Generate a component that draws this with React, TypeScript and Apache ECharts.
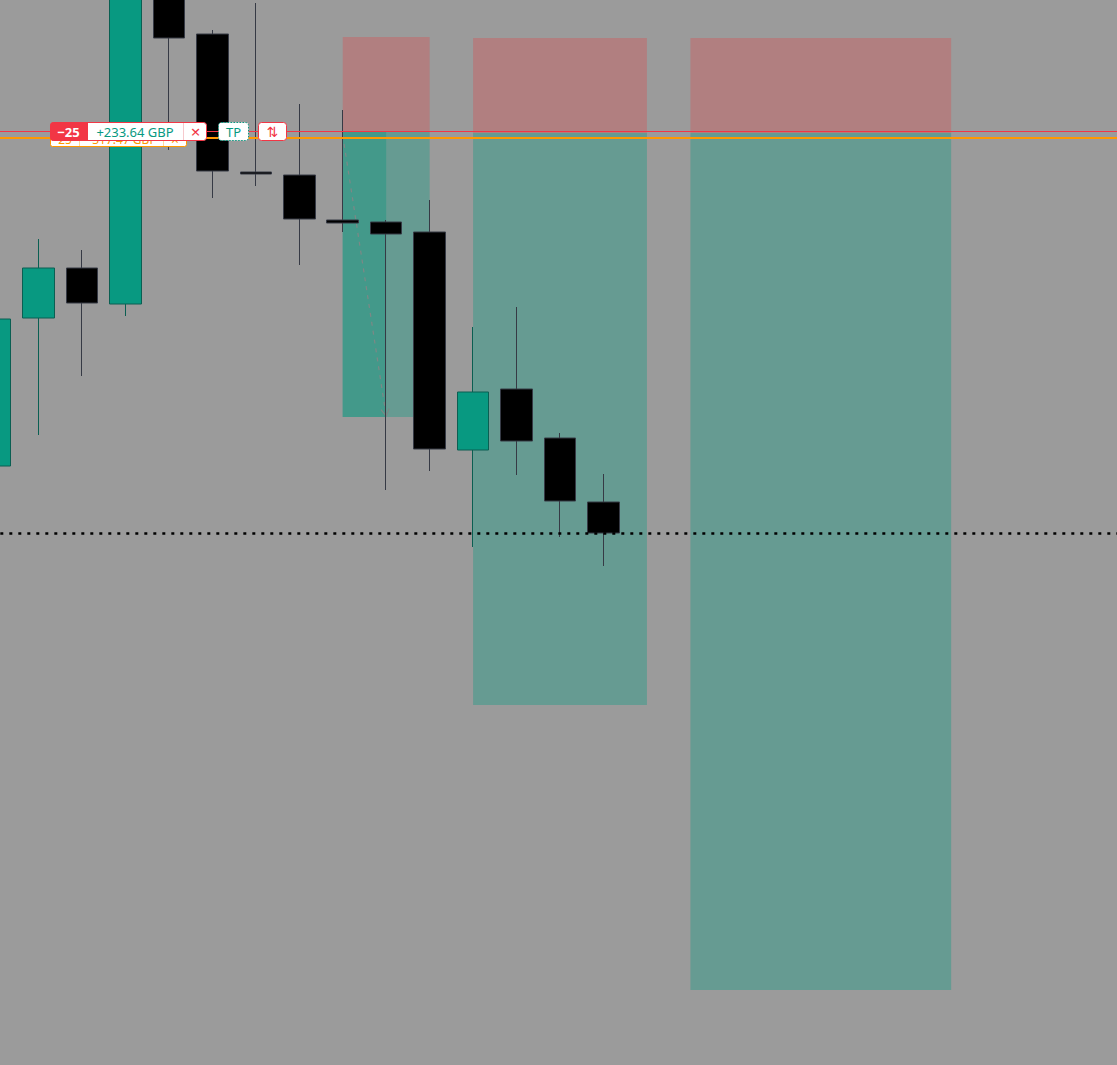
import React, { useEffect, useRef } from "react";
import * as echarts from "echarts";

// Bar labels (no axis shown in the reference)
const categories = [
  "1", "2", "3", "4", "5", "6", "7", "8", "9", "10", "11", "12", "13", "14",
  "15", "16", "17", "18", "19", "20", "21", "22", "23", "24", "25", "26", "27",
];

// OHLC (price scale in points)
const opens = [7509.9, 7524.7, 7529.7, 7526.1, 7557.5, 7553.1, 7539.3, 7539.0, 7534.5, 7534.3, 7533.3, 7511.5, 7517.6, 7512.7, 7506.3];
const closes = [7524.6, 7529.7, 7526.2, 7558.5, 7552.7, 7539.4, 7539.1, 7534.6, 7534.2, 7533.1, 7511.6, 7517.3, 7512.4, 7506.4, 7503.2];
const lows = [7508.5, 7513.0, 7518.9, 7524.9, 7541.5, 7536.7, 7537.9, 7530.0, 7533.3, 7507.5, 7509.4, 7501.8, 7509.0, 7502.8, 7499.9];
const highs = [7526.5, 7532.6, 7531.5, 7560.0, 7559.5, 7553.5, 7556.2, 7546.1, 7545.5, 7534.5, 7536.5, 7523.8, 7525.8, 7513.2, 7509.1];

// Position-tool zones: [fromBar, toBar, topPrice, bottomPrice]
const riskZones = [
  [8, 10, 7552.8, 7543.4],
  [11, 15, 7552.7, 7543.2],
  [16, 22, 7552.7, 7543.2],
];
const rewardZones = [
  [8, 10, 7543.4, 7514.8],
  [11, 15, 7543.2, 7486.0],
  [16, 22, 7543.2, 7457.5],
];
const pathZones = [[8, 9, 7543.4, 7514.8]];
// dashed projected path inside the first zone: [bar, price]
const pathLine = [
  [8.02, 7543.0],
  [9.0, 7514.9],
];

// Horizontal price lines
const slLinePrice = 7543.35;
const entryLinePrice = 7542.7;
const lastPrice = 7503.2;

const Y_MIN = 7450.0;
const Y_MAX = 7556.5;

function zoneSeries(data: number[][], color: string, z: number) {
  return {
    type: "custom",
    z,
    silent: true,
    clip: false,
    encode: { x: [0, 1], y: [2, 3] },
    data,
    renderItem: (params: any, api: any) => {
      const p1 = api.coord([api.value(0), api.value(2)]);
      const p2 = api.coord([api.value(1), api.value(3)]);
      return {
        type: "rect",
        shape: { x: p1[0], y: p1[1], width: p2[0] - p1[0], height: p2[1] - p1[1] },
        style: { fill: color },
      };
    },
  };
}

export default function App() {
  const ref = useRef<HTMLDivElement>(null);

  useEffect(() => {
    if (!ref.current) return;
    const chart = echarts.init(ref.current, null, { renderer: "svg" });
    const candleData = opens.map((o, i) => [o, closes[i], lows[i], highs[i]]);
    const band = 43.46;
    const gridLeft = -4.96 - band / 2;
    const font = "Noto Sans";

    const option: any = {
      animation: false,
      backgroundColor: "#9b9b9b",
      grid: {
        left: gridLeft,
        top: 0,
        width: band * categories.length,
        height: 1065,
        outerBoundsMode: "none",
        containLabel: false,
      },
      xAxis: {
        type: "category",
        data: categories,
        boundaryGap: true,
        show: false,
      },
      yAxis: {
        type: "value",
        min: Y_MIN,
        max: Y_MAX,
        show: false,
        splitLine: { show: false },
      },
      series: [
        zoneSeries(riskZones, "#b17f80", 1),
        zoneSeries(rewardZones, "#669b92", 1),
        zoneSeries(pathZones, "#43998a", 2),
        {
          type: "custom",
          z: 2,
          silent: true,
          clip: false,
          encode: { x: 0, y: 1 },
          data: pathLine,
          renderItem: (params: any, api: any) => {
            if (params.dataIndex !== 0) return null;
            const a = api.coord(pathLine[0]);
            const b = api.coord(pathLine[1]);
            const dx = b[0] - a[0];
            const dy = b[1] - a[1];
            const len = Math.sqrt(dx * dx + dy * dy);
            const ux = dx / len;
            const uy = dy / len;
            const s = 7;
            const w1 = [b[0] - s * ux - s * 0.6 * uy, b[1] - s * uy + s * 0.6 * ux];
            const w2 = [b[0] - s * ux + s * 0.6 * uy, b[1] - s * uy - s * 0.6 * ux];
            return {
              type: "group",
              children: [
                {
                  type: "line",
                  shape: { x1: a[0], y1: a[1], x2: b[0], y2: b[1] },
                  style: { stroke: "#7d8886", lineWidth: 1.2, lineDash: [4, 5] },
                },
                {
                  type: "polyline",
                  shape: { points: [w1, b, w2] },
                  style: { stroke: "#7d8886", lineWidth: 1.2, fill: "none" },
                },
              ],
            };
          },
        },
        {
          type: "candlestick",
          z: 3,
          barWidth: 32,
          data: candleData,
          itemStyle: {
            color: "#089981",
            color0: "#000000",
            borderColor: "#0a5f52",
            borderColor0: "#363a45",
            borderWidth: 1,
          },
          markLine: {
            silent: true,
            symbol: ["none", "none"],
            label: { show: false },
            data: [
              { yAxis: slLinePrice, lineStyle: { color: "#f23645", width: 1, type: "solid" } },
              { yAxis: entryLinePrice, lineStyle: { color: "#ff9800", width: 2, type: "solid" } },
              { yAxis: lastPrice, lineStyle: { color: "#000000", width: 2.5, type: [3, 6] } },
            ],
          },
        },
      ],
      graphic: [
        // orange (entry) label, partly hidden
        {
          type: "rect",
          z: 20,
          shape: { x: 50.5, y: 131.5, width: 136, height: 15, r: 2 },
          style: { fill: "#ffffff", stroke: "#ff9800", lineWidth: 1 },
        },
        { type: "line", z: 20, shape: { x1: 79.5, y1: 132, x2: 79.5, y2: 146 }, style: { stroke: "#ffd9a0", lineWidth: 1 } },
        { type: "line", z: 20, shape: { x1: 163.5, y1: 132, x2: 163.5, y2: 146 }, style: { stroke: "#ffd9a0", lineWidth: 1 } },
        { type: "text", z: 21, x: 65, y: 139.5, style: { text: "25", fill: "#ff9800", font: `12px ${font}`, align: "center", verticalAlign: "middle" } },
        { type: "text", z: 21, x: 121, y: 139.5, style: { text: "−317.47 GBP", fill: "#ff9800", font: `12px ${font}`, align: "center", verticalAlign: "middle" } },
        { type: "text", z: 21, x: 175, y: 139.5, style: { text: "×", fill: "#ff9800", font: `14px ${font}`, align: "center", verticalAlign: "middle" } },
        // red (stop) label
        {
          type: "rect",
          z: 30,
          shape: { x: 50.5, y: 122.5, width: 156, height: 18, r: 3 },
          style: { fill: "#ffffff", stroke: "#f23645", lineWidth: 1 },
        },
        {
          type: "rect",
          z: 31,
          shape: { x: 50.5, y: 122.5, width: 37, height: 18, r: [3, 0, 0, 3] },
          style: { fill: "#f23645", stroke: "#f23645", lineWidth: 1 },
        },
        { type: "text", z: 32, x: 68.5, y: 132, style: { text: "−25", fill: "#ffffff", font: `bold 13px ${font}`, align: "center", verticalAlign: "middle" } },
        { type: "text", z: 32, x: 135, y: 132, style: { text: "+233.64 GBP", fill: "#089981", font: `13px ${font}`, align: "center", verticalAlign: "middle" } },
        { type: "line", z: 32, shape: { x1: 183.5, y1: 123, x2: 183.5, y2: 140 }, style: { stroke: "#f6c9cd", lineWidth: 1 } },
        { type: "text", z: 32, x: 195.5, y: 131.5, style: { text: "×", fill: "#f23645", font: `17px ${font}`, align: "center", verticalAlign: "middle" } },
        // TP button
        {
          type: "rect",
          z: 30,
          shape: { x: 218.5, y: 122.5, width: 30, height: 18, r: 3 },
          style: { fill: "#ffffff", stroke: "#089981", lineWidth: 1, lineDash: [1.5, 1.5] },
        },
        { type: "text", z: 32, x: 233.5, y: 132, style: { text: "TP", fill: "#089981", font: `13px ${font}`, align: "center", verticalAlign: "middle" } },
        // reverse button
        {
          type: "rect",
          z: 30,
          shape: { x: 258.5, y: 122.5, width: 28, height: 18, r: 3 },
          style: { fill: "#ffffff", stroke: "#f23645", lineWidth: 1 },
        },
        { type: "text", z: 32, x: 272.5, y: 132, style: { text: "⇅", fill: "#f23645", font: `14px DejaVu Sans`, align: "center", verticalAlign: "middle" } },
      ],
    };

    chart.setOption(option);
    return () => chart.dispose();
  }, []);

  return (
    <div
      ref={ref}
      style={{ position: "absolute", left: 0, top: 0, width: 1117, height: 1065 }}
    />
  );
}
